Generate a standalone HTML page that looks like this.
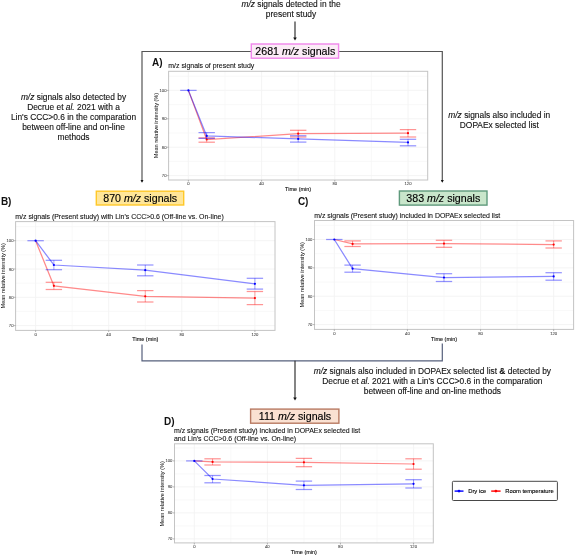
<!DOCTYPE html>
<html><head><meta charset="utf-8"><style>
html,body{margin:0;padding:0;background:#fff;width:575px;height:556px;overflow:hidden}
svg{display:block;font-family:"Liberation Sans", sans-serif;will-change:transform}
</style></head><body>
<svg width="575" height="556" viewBox="0 0 575 556" font-family='"Liberation Sans", sans-serif'>
<text x="291" y="6.8" font-size="8.4" text-anchor="middle" fill="#111" stroke="#111" stroke-width="0.12" font-weight="normal" ><tspan font-style="italic">m/z</tspan> signals detected in the</text>
<text x="291" y="16.7" font-size="8.4" text-anchor="middle" fill="#111" stroke="#111" stroke-width="0.12" font-weight="normal" >present study</text>
<line x1="295" y1="21.5" x2="295" y2="38" stroke="#2a2a2a" stroke-width="1.15"/>
<path d="M293.2,37.5 L296.8,37.5 L295,40.5 Z" fill="#111"/>
<polyline points="142,181.5 142,51.5 251,51.5" fill="none" stroke="#555" stroke-width="1.2"/>
<polyline points="338.6,51.5 442.3,51.5 442.3,181.5" fill="none" stroke="#555" stroke-width="1.2"/>
<path d="M140.5,180 L143.5,180 L142,182.8 Z" fill="#111"/>
<path d="M440.8,180 L443.8,180 L442.3,182.8 Z" fill="#111"/>
<rect x="251.3" y="44.0" width="87.30000000000001" height="14.200000000000003" fill="#fbecf6" stroke="#f086ec" stroke-width="1.4"/>
<text x="295.3" y="55.2" font-size="10.65" text-anchor="middle" fill="#000" stroke="#000" stroke-width="0.15" font-weight="normal" >2681 <tspan font-style="italic">m/z</tspan> signals</text>
<text x="73.5" y="99.7" font-size="8.4" text-anchor="middle" fill="#111" stroke="#111" stroke-width="0.12" font-weight="normal" ><tspan font-style="italic">m/z</tspan> signals also detected by</text>
<text x="73.5" y="109.75" font-size="8.4" text-anchor="middle" fill="#111" stroke="#111" stroke-width="0.12" font-weight="normal" >Decrue et <tspan font-style="italic">al.</tspan> 2021 with a</text>
<text x="73.5" y="119.80000000000001" font-size="8.4" text-anchor="middle" fill="#111" stroke="#111" stroke-width="0.12" font-weight="normal" >Lin's CCC&gt;0.6 in the comparation</text>
<text x="73.5" y="129.85" font-size="8.4" text-anchor="middle" fill="#111" stroke="#111" stroke-width="0.12" font-weight="normal" >between off-line and on-line</text>
<text x="73.5" y="139.9" font-size="8.4" text-anchor="middle" fill="#111" stroke="#111" stroke-width="0.12" font-weight="normal" >methods</text>
<text x="499.3" y="118.3" font-size="8.4" text-anchor="middle" fill="#111" stroke="#111" stroke-width="0.12" font-weight="normal" ><tspan font-style="italic">m/z</tspan> signals also included in</text>
<text x="499.3" y="127.6" font-size="8.4" text-anchor="middle" fill="#111" stroke="#111" stroke-width="0.12" font-weight="normal" >DOPAEx selected list</text>
<rect x="96.3" y="191.2" width="87.39999999999999" height="13.800000000000011" fill="#ffe699" stroke="#ffc828" stroke-width="1.4"/>
<text x="140.2" y="202.4" font-size="10.65" text-anchor="middle" fill="#000" stroke="#000" stroke-width="0.15" font-weight="normal" >870 <tspan font-style="italic">m/z</tspan> signals</text>
<rect x="399.4" y="191.0" width="87.60000000000002" height="14.099999999999994" fill="#c9e6cb" stroke="#5f9a7c" stroke-width="1.4"/>
<text x="443.3" y="202.4" font-size="10.65" text-anchor="middle" fill="#000" stroke="#000" stroke-width="0.15" font-weight="normal" >383 <tspan font-style="italic">m/z</tspan> signals</text>
<rect x="250.6" y="409.1" width="88.29999999999998" height="14.099999999999966" fill="#fae1d2" stroke="#b87a62" stroke-width="1.4"/>
<text x="295" y="420.4" font-size="10.65" text-anchor="middle" fill="#000" stroke="#000" stroke-width="0.15" font-weight="normal" >111 <tspan font-style="italic">m/z</tspan> signals</text>
<text x="0.9" y="204.9" font-size="10.0" text-anchor="start" fill="#111" stroke="#111" stroke-width="0" font-weight="bold" >B)</text>
<text x="297.9" y="205.4" font-size="10.0" text-anchor="start" fill="#111" stroke="#111" stroke-width="0" font-weight="bold" >C)</text>
<text x="152.1" y="66.2" font-size="10.0" text-anchor="start" fill="#111" stroke="#111" stroke-width="0" font-weight="bold" >A)</text>
<text x="164" y="425.1" font-size="10.0" text-anchor="start" fill="#111" stroke="#111" stroke-width="0" font-weight="bold" >D)</text>
<polyline points="142,344.5 142,360.8 442.3,360.8 442.3,343.5" fill="none" stroke="#56607c" stroke-width="1.2"/>
<line x1="295" y1="360.8" x2="295" y2="398" stroke="#2a2a2a" stroke-width="1.15"/>
<path d="M293.2,397.5 L296.8,397.5 L295,400.5 Z" fill="#111"/>
<text x="432.4" y="373.8" font-size="8.4" text-anchor="middle" fill="#111" stroke="#111" stroke-width="0.12" font-weight="normal" ><tspan font-style="italic">m/z</tspan> signals also included in DOPAEx selected list <tspan font-weight="bold">&amp;</tspan> detected by</text>
<text x="432.4" y="383.8" font-size="8.4" text-anchor="middle" fill="#111" stroke="#111" stroke-width="0.12" font-weight="normal" >Decrue et <tspan font-style="italic">al.</tspan> 2021 with a Lin's CCC&gt;0.6 in the comparation</text>
<text x="432.4" y="393.8" font-size="8.4" text-anchor="middle" fill="#111" stroke="#111" stroke-width="0.12" font-weight="normal" >between off-line and on-line methods</text>
<rect x="168.6" y="71.3" width="259.1" height="108.7" fill="#fff"/>
<line x1="168.6" y1="161.40" x2="427.7" y2="161.40" stroke="#f6f6f6" stroke-width="0.7"/>
<line x1="168.6" y1="133.00" x2="427.7" y2="133.00" stroke="#f6f6f6" stroke-width="0.7"/>
<line x1="168.6" y1="104.60" x2="427.7" y2="104.60" stroke="#f6f6f6" stroke-width="0.7"/>
<line x1="168.6" y1="76.20" x2="427.7" y2="76.20" stroke="#f6f6f6" stroke-width="0.7"/>
<line x1="225.00" y1="71.3" x2="225.00" y2="180.0" stroke="#f6f6f6" stroke-width="0.7"/>
<line x1="298.20" y1="71.3" x2="298.20" y2="180.0" stroke="#f6f6f6" stroke-width="0.7"/>
<line x1="371.40" y1="71.3" x2="371.40" y2="180.0" stroke="#f6f6f6" stroke-width="0.7"/>
<line x1="168.6" y1="175.60" x2="427.7" y2="175.60" stroke="#f3f3f3" stroke-width="0.9"/>
<line x1="168.6" y1="147.20" x2="427.7" y2="147.20" stroke="#f3f3f3" stroke-width="0.9"/>
<line x1="168.6" y1="118.80" x2="427.7" y2="118.80" stroke="#f3f3f3" stroke-width="0.9"/>
<line x1="168.6" y1="90.40" x2="427.7" y2="90.40" stroke="#f3f3f3" stroke-width="0.9"/>
<line x1="188.40" y1="71.3" x2="188.40" y2="180.0" stroke="#f3f3f3" stroke-width="0.9"/>
<line x1="261.60" y1="71.3" x2="261.60" y2="180.0" stroke="#f3f3f3" stroke-width="0.9"/>
<line x1="334.80" y1="71.3" x2="334.80" y2="180.0" stroke="#f3f3f3" stroke-width="0.9"/>
<line x1="408.00" y1="71.3" x2="408.00" y2="180.0" stroke="#f3f3f3" stroke-width="0.9"/>
<rect x="168.6" y="71.3" width="259.1" height="108.7" fill="none" stroke="#c4c4c4" stroke-width="1"/>
<line x1="167.0" y1="175.60" x2="168.6" y2="175.60" stroke="#888" stroke-width="0.6"/>
<text x="166.5" y="177.15" font-size="4.2" text-anchor="end" fill="#444" stroke="#444" stroke-width="0.06" font-weight="normal" >70</text>
<line x1="167.0" y1="147.20" x2="168.6" y2="147.20" stroke="#888" stroke-width="0.6"/>
<text x="166.5" y="148.75" font-size="4.2" text-anchor="end" fill="#444" stroke="#444" stroke-width="0.06" font-weight="normal" >80</text>
<line x1="167.0" y1="118.80" x2="168.6" y2="118.80" stroke="#888" stroke-width="0.6"/>
<text x="166.5" y="120.35" font-size="4.2" text-anchor="end" fill="#444" stroke="#444" stroke-width="0.06" font-weight="normal" >90</text>
<line x1="167.0" y1="90.40" x2="168.6" y2="90.40" stroke="#888" stroke-width="0.6"/>
<text x="166.5" y="91.95" font-size="4.2" text-anchor="end" fill="#444" stroke="#444" stroke-width="0.06" font-weight="normal" >100</text>
<line x1="188.40" y1="180.0" x2="188.40" y2="181.6" stroke="#888" stroke-width="0.6"/>
<text x="188.4" y="185.2" font-size="4.2" text-anchor="middle" fill="#444" stroke="#444" stroke-width="0.06" font-weight="normal" >0</text>
<line x1="261.60" y1="180.0" x2="261.60" y2="181.6" stroke="#888" stroke-width="0.6"/>
<text x="261.6" y="185.2" font-size="4.2" text-anchor="middle" fill="#444" stroke="#444" stroke-width="0.06" font-weight="normal" >40</text>
<line x1="334.80" y1="180.0" x2="334.80" y2="181.6" stroke="#888" stroke-width="0.6"/>
<text x="334.79999999999995" y="185.2" font-size="4.2" text-anchor="middle" fill="#444" stroke="#444" stroke-width="0.06" font-weight="normal" >80</text>
<line x1="408.00" y1="180.0" x2="408.00" y2="181.6" stroke="#888" stroke-width="0.6"/>
<text x="408.0" y="185.2" font-size="4.2" text-anchor="middle" fill="#444" stroke="#444" stroke-width="0.06" font-weight="normal" >120</text>
<text x="298.15" y="191" font-size="5.5" text-anchor="middle" fill="#111" stroke="#111" stroke-width="0.12" font-weight="normal" >Time (min)</text>
<text x="0" y="0" font-size="5.55" text-anchor="middle" fill="#111" stroke="#111" stroke-width="0.02" font-weight="normal" transform="translate(157.70,125.55) rotate(-90)">Mean relative intensity (%)</text>
<polyline points="188.40,90.40 206.70,139.50 298.20,133.70 408.00,133.20" fill="none" stroke="#ff0000" stroke-opacity="0.46" stroke-width="1.25"/>
<line x1="198.50" y1="137.90" x2="214.90" y2="137.90" stroke="#ff0000" stroke-opacity="0.42" stroke-width="1.25"/>
<line x1="198.50" y1="142.20" x2="214.90" y2="142.20" stroke="#ff0000" stroke-opacity="0.42" stroke-width="1.25"/>
<line x1="206.70" y1="137.90" x2="206.70" y2="142.20" stroke="#ff0000" stroke-opacity="0.46" stroke-width="0.8"/>
<circle cx="206.70" cy="139.50" r="1.1" fill="#ff0000"/>
<line x1="290.00" y1="130.30" x2="306.40" y2="130.30" stroke="#ff0000" stroke-opacity="0.42" stroke-width="1.25"/>
<line x1="290.00" y1="137.00" x2="306.40" y2="137.00" stroke="#ff0000" stroke-opacity="0.42" stroke-width="1.25"/>
<line x1="298.20" y1="130.30" x2="298.20" y2="137.00" stroke="#ff0000" stroke-opacity="0.46" stroke-width="0.8"/>
<circle cx="298.20" cy="133.70" r="1.1" fill="#ff0000"/>
<line x1="399.80" y1="129.60" x2="416.20" y2="129.60" stroke="#ff0000" stroke-opacity="0.42" stroke-width="1.25"/>
<line x1="399.80" y1="137.00" x2="416.20" y2="137.00" stroke="#ff0000" stroke-opacity="0.42" stroke-width="1.25"/>
<line x1="408.00" y1="129.60" x2="408.00" y2="137.00" stroke="#ff0000" stroke-opacity="0.46" stroke-width="0.8"/>
<circle cx="408.00" cy="133.20" r="1.1" fill="#ff0000"/>
<polyline points="188.40,90.40 206.70,135.90 298.20,138.90 408.00,142.40" fill="none" stroke="#0000ff" stroke-opacity="0.46" stroke-width="1.25"/>
<line x1="180.20" y1="90.40" x2="196.60" y2="90.40" stroke="#0000ff" stroke-opacity="0.42" stroke-width="1.25"/>
<line x1="188.40" y1="90.40" x2="188.40" y2="90.40" stroke="#0000ff" stroke-opacity="0.46" stroke-width="0.8"/>
<circle cx="188.40" cy="90.40" r="1.1" fill="#0000ff"/>
<line x1="198.50" y1="132.60" x2="214.90" y2="132.60" stroke="#0000ff" stroke-opacity="0.42" stroke-width="1.25"/>
<line x1="198.50" y1="138.40" x2="214.90" y2="138.40" stroke="#0000ff" stroke-opacity="0.42" stroke-width="1.25"/>
<line x1="206.70" y1="132.60" x2="206.70" y2="138.40" stroke="#0000ff" stroke-opacity="0.46" stroke-width="0.8"/>
<circle cx="206.70" cy="135.90" r="1.1" fill="#0000ff"/>
<line x1="290.00" y1="135.70" x2="306.40" y2="135.70" stroke="#0000ff" stroke-opacity="0.42" stroke-width="1.25"/>
<line x1="290.00" y1="142.10" x2="306.40" y2="142.10" stroke="#0000ff" stroke-opacity="0.42" stroke-width="1.25"/>
<line x1="298.20" y1="135.70" x2="298.20" y2="142.10" stroke="#0000ff" stroke-opacity="0.46" stroke-width="0.8"/>
<circle cx="298.20" cy="138.90" r="1.1" fill="#0000ff"/>
<line x1="399.80" y1="139.30" x2="416.20" y2="139.30" stroke="#0000ff" stroke-opacity="0.42" stroke-width="1.25"/>
<line x1="399.80" y1="145.80" x2="416.20" y2="145.80" stroke="#0000ff" stroke-opacity="0.42" stroke-width="1.25"/>
<line x1="408.00" y1="139.30" x2="408.00" y2="145.80" stroke="#0000ff" stroke-opacity="0.46" stroke-width="0.8"/>
<circle cx="408.00" cy="142.40" r="1.1" fill="#0000ff"/>
<text x="168.29999999999998" y="68.3" font-size="6.95" text-anchor="start" fill="#111" stroke="#111" stroke-width="0.1" font-weight="normal" >m/z signals of present study</text>
<rect x="15.6" y="221.6" width="259.4" height="108.79999999999998" fill="#fff"/>
<line x1="15.6" y1="311.45" x2="275.0" y2="311.45" stroke="#f6f6f6" stroke-width="0.7"/>
<line x1="15.6" y1="283.15" x2="275.0" y2="283.15" stroke="#f6f6f6" stroke-width="0.7"/>
<line x1="15.6" y1="254.85" x2="275.0" y2="254.85" stroke="#f6f6f6" stroke-width="0.7"/>
<line x1="15.6" y1="226.55" x2="275.0" y2="226.55" stroke="#f6f6f6" stroke-width="0.7"/>
<line x1="72.15" y1="221.6" x2="72.15" y2="330.4" stroke="#f6f6f6" stroke-width="0.7"/>
<line x1="145.25" y1="221.6" x2="145.25" y2="330.4" stroke="#f6f6f6" stroke-width="0.7"/>
<line x1="218.35" y1="221.6" x2="218.35" y2="330.4" stroke="#f6f6f6" stroke-width="0.7"/>
<line x1="15.6" y1="325.60" x2="275.0" y2="325.60" stroke="#f3f3f3" stroke-width="0.9"/>
<line x1="15.6" y1="297.30" x2="275.0" y2="297.30" stroke="#f3f3f3" stroke-width="0.9"/>
<line x1="15.6" y1="269.00" x2="275.0" y2="269.00" stroke="#f3f3f3" stroke-width="0.9"/>
<line x1="15.6" y1="240.70" x2="275.0" y2="240.70" stroke="#f3f3f3" stroke-width="0.9"/>
<line x1="35.60" y1="221.6" x2="35.60" y2="330.4" stroke="#f3f3f3" stroke-width="0.9"/>
<line x1="108.70" y1="221.6" x2="108.70" y2="330.4" stroke="#f3f3f3" stroke-width="0.9"/>
<line x1="181.80" y1="221.6" x2="181.80" y2="330.4" stroke="#f3f3f3" stroke-width="0.9"/>
<line x1="254.90" y1="221.6" x2="254.90" y2="330.4" stroke="#f3f3f3" stroke-width="0.9"/>
<rect x="15.6" y="221.6" width="259.4" height="108.79999999999998" fill="none" stroke="#c4c4c4" stroke-width="1"/>
<line x1="14.0" y1="325.60" x2="15.6" y2="325.60" stroke="#888" stroke-width="0.6"/>
<text x="13.5" y="327.15000000000003" font-size="4.2" text-anchor="end" fill="#444" stroke="#444" stroke-width="0.06" font-weight="normal" >70</text>
<line x1="14.0" y1="297.30" x2="15.6" y2="297.30" stroke="#888" stroke-width="0.6"/>
<text x="13.5" y="298.85" font-size="4.2" text-anchor="end" fill="#444" stroke="#444" stroke-width="0.06" font-weight="normal" >80</text>
<line x1="14.0" y1="269.00" x2="15.6" y2="269.00" stroke="#888" stroke-width="0.6"/>
<text x="13.5" y="270.55" font-size="4.2" text-anchor="end" fill="#444" stroke="#444" stroke-width="0.06" font-weight="normal" >90</text>
<line x1="14.0" y1="240.70" x2="15.6" y2="240.70" stroke="#888" stroke-width="0.6"/>
<text x="13.5" y="242.25" font-size="4.2" text-anchor="end" fill="#444" stroke="#444" stroke-width="0.06" font-weight="normal" >100</text>
<line x1="35.60" y1="330.4" x2="35.60" y2="332.0" stroke="#888" stroke-width="0.6"/>
<text x="35.6" y="335.59999999999997" font-size="4.2" text-anchor="middle" fill="#444" stroke="#444" stroke-width="0.06" font-weight="normal" >0</text>
<line x1="108.70" y1="330.4" x2="108.70" y2="332.0" stroke="#888" stroke-width="0.6"/>
<text x="108.69999999999999" y="335.59999999999997" font-size="4.2" text-anchor="middle" fill="#444" stroke="#444" stroke-width="0.06" font-weight="normal" >40</text>
<line x1="181.80" y1="330.4" x2="181.80" y2="332.0" stroke="#888" stroke-width="0.6"/>
<text x="181.79999999999998" y="335.59999999999997" font-size="4.2" text-anchor="middle" fill="#444" stroke="#444" stroke-width="0.06" font-weight="normal" >80</text>
<line x1="254.90" y1="330.4" x2="254.90" y2="332.0" stroke="#888" stroke-width="0.6"/>
<text x="254.89999999999998" y="335.59999999999997" font-size="4.2" text-anchor="middle" fill="#444" stroke="#444" stroke-width="0.06" font-weight="normal" >120</text>
<text x="145.3" y="341.2" font-size="5.5" text-anchor="middle" fill="#111" stroke="#111" stroke-width="0.12" font-weight="normal" >Time (min)</text>
<text x="0" y="0" font-size="5.55" text-anchor="middle" fill="#111" stroke="#111" stroke-width="0.02" font-weight="normal" transform="translate(5.00,275.80) rotate(-90)">Mean relative intensity (%)</text>
<polyline points="35.60,240.70 53.88,285.80 145.25,296.30 254.90,298.10" fill="none" stroke="#ff0000" stroke-opacity="0.46" stroke-width="1.25"/>
<line x1="45.67" y1="282.30" x2="62.08" y2="282.30" stroke="#ff0000" stroke-opacity="0.42" stroke-width="1.25"/>
<line x1="45.67" y1="289.50" x2="62.08" y2="289.50" stroke="#ff0000" stroke-opacity="0.42" stroke-width="1.25"/>
<line x1="53.88" y1="282.30" x2="53.88" y2="289.50" stroke="#ff0000" stroke-opacity="0.46" stroke-width="0.8"/>
<circle cx="53.88" cy="285.80" r="1.1" fill="#ff0000"/>
<line x1="137.05" y1="290.60" x2="153.45" y2="290.60" stroke="#ff0000" stroke-opacity="0.42" stroke-width="1.25"/>
<line x1="137.05" y1="302.00" x2="153.45" y2="302.00" stroke="#ff0000" stroke-opacity="0.42" stroke-width="1.25"/>
<line x1="145.25" y1="290.60" x2="145.25" y2="302.00" stroke="#ff0000" stroke-opacity="0.46" stroke-width="0.8"/>
<circle cx="145.25" cy="296.30" r="1.1" fill="#ff0000"/>
<line x1="246.70" y1="291.50" x2="263.10" y2="291.50" stroke="#ff0000" stroke-opacity="0.42" stroke-width="1.25"/>
<line x1="246.70" y1="304.60" x2="263.10" y2="304.60" stroke="#ff0000" stroke-opacity="0.42" stroke-width="1.25"/>
<line x1="254.90" y1="291.50" x2="254.90" y2="304.60" stroke="#ff0000" stroke-opacity="0.46" stroke-width="0.8"/>
<circle cx="254.90" cy="298.10" r="1.1" fill="#ff0000"/>
<polyline points="35.60,240.70 53.88,265.00 145.25,270.20 254.90,283.80" fill="none" stroke="#0000ff" stroke-opacity="0.46" stroke-width="1.25"/>
<line x1="27.40" y1="240.70" x2="43.80" y2="240.70" stroke="#0000ff" stroke-opacity="0.42" stroke-width="1.25"/>
<line x1="35.60" y1="240.70" x2="35.60" y2="240.70" stroke="#0000ff" stroke-opacity="0.46" stroke-width="0.8"/>
<circle cx="35.60" cy="240.70" r="1.1" fill="#0000ff"/>
<line x1="45.67" y1="260.30" x2="62.08" y2="260.30" stroke="#0000ff" stroke-opacity="0.42" stroke-width="1.25"/>
<line x1="45.67" y1="269.70" x2="62.08" y2="269.70" stroke="#0000ff" stroke-opacity="0.42" stroke-width="1.25"/>
<line x1="53.88" y1="260.30" x2="53.88" y2="269.70" stroke="#0000ff" stroke-opacity="0.46" stroke-width="0.8"/>
<circle cx="53.88" cy="265.00" r="1.1" fill="#0000ff"/>
<line x1="137.05" y1="265.00" x2="153.45" y2="265.00" stroke="#0000ff" stroke-opacity="0.42" stroke-width="1.25"/>
<line x1="137.05" y1="275.80" x2="153.45" y2="275.80" stroke="#0000ff" stroke-opacity="0.42" stroke-width="1.25"/>
<line x1="145.25" y1="265.00" x2="145.25" y2="275.80" stroke="#0000ff" stroke-opacity="0.46" stroke-width="0.8"/>
<circle cx="145.25" cy="270.20" r="1.1" fill="#0000ff"/>
<line x1="246.70" y1="278.30" x2="263.10" y2="278.30" stroke="#0000ff" stroke-opacity="0.42" stroke-width="1.25"/>
<line x1="246.70" y1="289.10" x2="263.10" y2="289.10" stroke="#0000ff" stroke-opacity="0.42" stroke-width="1.25"/>
<line x1="254.90" y1="278.30" x2="254.90" y2="289.10" stroke="#0000ff" stroke-opacity="0.46" stroke-width="0.8"/>
<circle cx="254.90" cy="283.80" r="1.1" fill="#0000ff"/>
<text x="15.299999999999999" y="218.6" font-size="6.95" text-anchor="start" fill="#111" stroke="#111" stroke-width="0.1" font-weight="normal" >m/z signals (Present study) with Lin's CCC&gt;0.6 (Off-line vs. On-line)</text>
<rect x="314.5" y="220.5" width="259.1" height="108.89999999999998" fill="#fff"/>
<line x1="314.5" y1="310.42" x2="573.6" y2="310.42" stroke="#f6f6f6" stroke-width="0.7"/>
<line x1="314.5" y1="282.05" x2="573.6" y2="282.05" stroke="#f6f6f6" stroke-width="0.7"/>
<line x1="314.5" y1="253.68" x2="573.6" y2="253.68" stroke="#f6f6f6" stroke-width="0.7"/>
<line x1="314.5" y1="225.32" x2="573.6" y2="225.32" stroke="#f6f6f6" stroke-width="0.7"/>
<line x1="370.86" y1="220.5" x2="370.86" y2="329.4" stroke="#f6f6f6" stroke-width="0.7"/>
<line x1="443.98" y1="220.5" x2="443.98" y2="329.4" stroke="#f6f6f6" stroke-width="0.7"/>
<line x1="517.10" y1="220.5" x2="517.10" y2="329.4" stroke="#f6f6f6" stroke-width="0.7"/>
<line x1="314.5" y1="324.60" x2="573.6" y2="324.60" stroke="#f3f3f3" stroke-width="0.9"/>
<line x1="314.5" y1="296.23" x2="573.6" y2="296.23" stroke="#f3f3f3" stroke-width="0.9"/>
<line x1="314.5" y1="267.87" x2="573.6" y2="267.87" stroke="#f3f3f3" stroke-width="0.9"/>
<line x1="314.5" y1="239.50" x2="573.6" y2="239.50" stroke="#f3f3f3" stroke-width="0.9"/>
<line x1="334.30" y1="220.5" x2="334.30" y2="329.4" stroke="#f3f3f3" stroke-width="0.9"/>
<line x1="407.42" y1="220.5" x2="407.42" y2="329.4" stroke="#f3f3f3" stroke-width="0.9"/>
<line x1="480.54" y1="220.5" x2="480.54" y2="329.4" stroke="#f3f3f3" stroke-width="0.9"/>
<line x1="553.66" y1="220.5" x2="553.66" y2="329.4" stroke="#f3f3f3" stroke-width="0.9"/>
<rect x="314.5" y="220.5" width="259.1" height="108.89999999999998" fill="none" stroke="#c4c4c4" stroke-width="1"/>
<line x1="312.9" y1="324.60" x2="314.5" y2="324.60" stroke="#888" stroke-width="0.6"/>
<text x="312.4" y="326.15000000000003" font-size="4.2" text-anchor="end" fill="#444" stroke="#444" stroke-width="0.06" font-weight="normal" >70</text>
<line x1="312.9" y1="296.23" x2="314.5" y2="296.23" stroke="#888" stroke-width="0.6"/>
<text x="312.4" y="297.78333333333336" font-size="4.2" text-anchor="end" fill="#444" stroke="#444" stroke-width="0.06" font-weight="normal" >80</text>
<line x1="312.9" y1="267.87" x2="314.5" y2="267.87" stroke="#888" stroke-width="0.6"/>
<text x="312.4" y="269.4166666666667" font-size="4.2" text-anchor="end" fill="#444" stroke="#444" stroke-width="0.06" font-weight="normal" >90</text>
<line x1="312.9" y1="239.50" x2="314.5" y2="239.50" stroke="#888" stroke-width="0.6"/>
<text x="312.4" y="241.05" font-size="4.2" text-anchor="end" fill="#444" stroke="#444" stroke-width="0.06" font-weight="normal" >100</text>
<line x1="334.30" y1="329.4" x2="334.30" y2="331.0" stroke="#888" stroke-width="0.6"/>
<text x="334.3" y="334.59999999999997" font-size="4.2" text-anchor="middle" fill="#444" stroke="#444" stroke-width="0.06" font-weight="normal" >0</text>
<line x1="407.42" y1="329.4" x2="407.42" y2="331.0" stroke="#888" stroke-width="0.6"/>
<text x="407.42" y="334.59999999999997" font-size="4.2" text-anchor="middle" fill="#444" stroke="#444" stroke-width="0.06" font-weight="normal" >40</text>
<line x1="480.54" y1="329.4" x2="480.54" y2="331.0" stroke="#888" stroke-width="0.6"/>
<text x="480.54" y="334.59999999999997" font-size="4.2" text-anchor="middle" fill="#444" stroke="#444" stroke-width="0.06" font-weight="normal" >80</text>
<line x1="553.66" y1="329.4" x2="553.66" y2="331.0" stroke="#888" stroke-width="0.6"/>
<text x="553.6600000000001" y="334.59999999999997" font-size="4.2" text-anchor="middle" fill="#444" stroke="#444" stroke-width="0.06" font-weight="normal" >120</text>
<text x="444.05" y="340.5" font-size="5.5" text-anchor="middle" fill="#111" stroke="#111" stroke-width="0.12" font-weight="normal" >Time (min)</text>
<text x="0" y="0" font-size="5.55" text-anchor="middle" fill="#111" stroke="#111" stroke-width="0.02" font-weight="normal" transform="translate(304.00,274.75) rotate(-90)">Mean relative intensity (%)</text>
<polyline points="334.30,239.50 352.58,243.90 443.98,243.60 553.66,244.60" fill="none" stroke="#ff0000" stroke-opacity="0.46" stroke-width="1.25"/>
<line x1="344.38" y1="240.90" x2="360.78" y2="240.90" stroke="#ff0000" stroke-opacity="0.42" stroke-width="1.25"/>
<line x1="344.38" y1="246.50" x2="360.78" y2="246.50" stroke="#ff0000" stroke-opacity="0.42" stroke-width="1.25"/>
<line x1="352.58" y1="240.90" x2="352.58" y2="246.50" stroke="#ff0000" stroke-opacity="0.46" stroke-width="0.8"/>
<circle cx="352.58" cy="243.90" r="1.1" fill="#ff0000"/>
<line x1="435.78" y1="240.30" x2="452.18" y2="240.30" stroke="#ff0000" stroke-opacity="0.42" stroke-width="1.25"/>
<line x1="435.78" y1="247.30" x2="452.18" y2="247.30" stroke="#ff0000" stroke-opacity="0.42" stroke-width="1.25"/>
<line x1="443.98" y1="240.30" x2="443.98" y2="247.30" stroke="#ff0000" stroke-opacity="0.46" stroke-width="0.8"/>
<circle cx="443.98" cy="243.60" r="1.1" fill="#ff0000"/>
<line x1="545.46" y1="240.90" x2="561.86" y2="240.90" stroke="#ff0000" stroke-opacity="0.42" stroke-width="1.25"/>
<line x1="545.46" y1="248.00" x2="561.86" y2="248.00" stroke="#ff0000" stroke-opacity="0.42" stroke-width="1.25"/>
<line x1="553.66" y1="240.90" x2="553.66" y2="248.00" stroke="#ff0000" stroke-opacity="0.46" stroke-width="0.8"/>
<circle cx="553.66" cy="244.60" r="1.1" fill="#ff0000"/>
<polyline points="334.30,239.50 352.58,268.70 443.98,277.50 553.66,276.40" fill="none" stroke="#0000ff" stroke-opacity="0.46" stroke-width="1.25"/>
<line x1="326.10" y1="239.50" x2="342.50" y2="239.50" stroke="#0000ff" stroke-opacity="0.42" stroke-width="1.25"/>
<line x1="334.30" y1="239.50" x2="334.30" y2="239.50" stroke="#0000ff" stroke-opacity="0.46" stroke-width="0.8"/>
<circle cx="334.30" cy="239.50" r="1.1" fill="#0000ff"/>
<line x1="344.38" y1="265.10" x2="360.78" y2="265.10" stroke="#0000ff" stroke-opacity="0.42" stroke-width="1.25"/>
<line x1="344.38" y1="272.20" x2="360.78" y2="272.20" stroke="#0000ff" stroke-opacity="0.42" stroke-width="1.25"/>
<line x1="352.58" y1="265.10" x2="352.58" y2="272.20" stroke="#0000ff" stroke-opacity="0.46" stroke-width="0.8"/>
<circle cx="352.58" cy="268.70" r="1.1" fill="#0000ff"/>
<line x1="435.78" y1="273.70" x2="452.18" y2="273.70" stroke="#0000ff" stroke-opacity="0.42" stroke-width="1.25"/>
<line x1="435.78" y1="281.50" x2="452.18" y2="281.50" stroke="#0000ff" stroke-opacity="0.42" stroke-width="1.25"/>
<line x1="443.98" y1="273.70" x2="443.98" y2="281.50" stroke="#0000ff" stroke-opacity="0.46" stroke-width="0.8"/>
<circle cx="443.98" cy="277.50" r="1.1" fill="#0000ff"/>
<line x1="545.46" y1="272.70" x2="561.86" y2="272.70" stroke="#0000ff" stroke-opacity="0.42" stroke-width="1.25"/>
<line x1="545.46" y1="280.20" x2="561.86" y2="280.20" stroke="#0000ff" stroke-opacity="0.42" stroke-width="1.25"/>
<line x1="553.66" y1="272.70" x2="553.66" y2="280.20" stroke="#0000ff" stroke-opacity="0.46" stroke-width="0.8"/>
<circle cx="553.66" cy="276.40" r="1.1" fill="#0000ff"/>
<text x="314.2" y="217.5" font-size="6.95" text-anchor="start" fill="#111" stroke="#111" stroke-width="0.1" font-weight="normal" >m/z signals (Present study) included in DOPAEx selected list</text>
<rect x="174.5" y="443.8" width="258.8" height="99.09999999999997" fill="#fff"/>
<line x1="174.5" y1="525.90" x2="433.3" y2="525.90" stroke="#f6f6f6" stroke-width="0.7"/>
<line x1="174.5" y1="499.90" x2="433.3" y2="499.90" stroke="#f6f6f6" stroke-width="0.7"/>
<line x1="174.5" y1="473.90" x2="433.3" y2="473.90" stroke="#f6f6f6" stroke-width="0.7"/>
<line x1="174.5" y1="447.90" x2="433.3" y2="447.90" stroke="#f6f6f6" stroke-width="0.7"/>
<line x1="230.84" y1="443.8" x2="230.84" y2="542.9" stroke="#f6f6f6" stroke-width="0.7"/>
<line x1="303.92" y1="443.8" x2="303.92" y2="542.9" stroke="#f6f6f6" stroke-width="0.7"/>
<line x1="377.00" y1="443.8" x2="377.00" y2="542.9" stroke="#f6f6f6" stroke-width="0.7"/>
<line x1="174.5" y1="538.90" x2="433.3" y2="538.90" stroke="#f3f3f3" stroke-width="0.9"/>
<line x1="174.5" y1="512.90" x2="433.3" y2="512.90" stroke="#f3f3f3" stroke-width="0.9"/>
<line x1="174.5" y1="486.90" x2="433.3" y2="486.90" stroke="#f3f3f3" stroke-width="0.9"/>
<line x1="174.5" y1="460.90" x2="433.3" y2="460.90" stroke="#f3f3f3" stroke-width="0.9"/>
<line x1="194.30" y1="443.8" x2="194.30" y2="542.9" stroke="#f3f3f3" stroke-width="0.9"/>
<line x1="267.38" y1="443.8" x2="267.38" y2="542.9" stroke="#f3f3f3" stroke-width="0.9"/>
<line x1="340.46" y1="443.8" x2="340.46" y2="542.9" stroke="#f3f3f3" stroke-width="0.9"/>
<line x1="413.54" y1="443.8" x2="413.54" y2="542.9" stroke="#f3f3f3" stroke-width="0.9"/>
<rect x="174.5" y="443.8" width="258.8" height="99.09999999999997" fill="none" stroke="#c4c4c4" stroke-width="1"/>
<line x1="172.9" y1="538.90" x2="174.5" y2="538.90" stroke="#888" stroke-width="0.6"/>
<text x="172.4" y="540.4499999999999" font-size="4.2" text-anchor="end" fill="#444" stroke="#444" stroke-width="0.06" font-weight="normal" >70</text>
<line x1="172.9" y1="512.90" x2="174.5" y2="512.90" stroke="#888" stroke-width="0.6"/>
<text x="172.4" y="514.4499999999999" font-size="4.2" text-anchor="end" fill="#444" stroke="#444" stroke-width="0.06" font-weight="normal" >80</text>
<line x1="172.9" y1="486.90" x2="174.5" y2="486.90" stroke="#888" stroke-width="0.6"/>
<text x="172.4" y="488.45" font-size="4.2" text-anchor="end" fill="#444" stroke="#444" stroke-width="0.06" font-weight="normal" >90</text>
<line x1="172.9" y1="460.90" x2="174.5" y2="460.90" stroke="#888" stroke-width="0.6"/>
<text x="172.4" y="462.45" font-size="4.2" text-anchor="end" fill="#444" stroke="#444" stroke-width="0.06" font-weight="normal" >100</text>
<line x1="194.30" y1="542.9" x2="194.30" y2="544.5" stroke="#888" stroke-width="0.6"/>
<text x="194.3" y="548.1" font-size="4.2" text-anchor="middle" fill="#444" stroke="#444" stroke-width="0.06" font-weight="normal" >0</text>
<line x1="267.38" y1="542.9" x2="267.38" y2="544.5" stroke="#888" stroke-width="0.6"/>
<text x="267.38" y="548.1" font-size="4.2" text-anchor="middle" fill="#444" stroke="#444" stroke-width="0.06" font-weight="normal" >40</text>
<line x1="340.46" y1="542.9" x2="340.46" y2="544.5" stroke="#888" stroke-width="0.6"/>
<text x="340.46000000000004" y="548.1" font-size="4.2" text-anchor="middle" fill="#444" stroke="#444" stroke-width="0.06" font-weight="normal" >80</text>
<line x1="413.54" y1="542.9" x2="413.54" y2="544.5" stroke="#888" stroke-width="0.6"/>
<text x="413.54" y="548.1" font-size="4.2" text-anchor="middle" fill="#444" stroke="#444" stroke-width="0.06" font-weight="normal" >120</text>
<text x="303.9" y="554" font-size="5.5" text-anchor="middle" fill="#111" stroke="#111" stroke-width="0.12" font-weight="normal" >Time (min)</text>
<text x="0" y="0" font-size="5.55" text-anchor="middle" fill="#111" stroke="#111" stroke-width="0.02" font-weight="normal" transform="translate(163.60,493.90) rotate(-90)">Mean relative intensity (%)</text>
<polyline points="194.30,460.90 212.57,461.90 303.92,462.30 413.54,464.00" fill="none" stroke="#ff0000" stroke-opacity="0.46" stroke-width="1.25"/>
<line x1="204.37" y1="458.80" x2="220.77" y2="458.80" stroke="#ff0000" stroke-opacity="0.42" stroke-width="1.25"/>
<line x1="204.37" y1="465.00" x2="220.77" y2="465.00" stroke="#ff0000" stroke-opacity="0.42" stroke-width="1.25"/>
<line x1="212.57" y1="458.80" x2="212.57" y2="465.00" stroke="#ff0000" stroke-opacity="0.46" stroke-width="0.8"/>
<circle cx="212.57" cy="461.90" r="1.1" fill="#ff0000"/>
<line x1="295.72" y1="458.40" x2="312.12" y2="458.40" stroke="#ff0000" stroke-opacity="0.42" stroke-width="1.25"/>
<line x1="295.72" y1="466.70" x2="312.12" y2="466.70" stroke="#ff0000" stroke-opacity="0.42" stroke-width="1.25"/>
<line x1="303.92" y1="458.40" x2="303.92" y2="466.70" stroke="#ff0000" stroke-opacity="0.46" stroke-width="0.8"/>
<circle cx="303.92" cy="462.30" r="1.1" fill="#ff0000"/>
<line x1="405.34" y1="458.80" x2="421.74" y2="458.80" stroke="#ff0000" stroke-opacity="0.42" stroke-width="1.25"/>
<line x1="405.34" y1="469.20" x2="421.74" y2="469.20" stroke="#ff0000" stroke-opacity="0.42" stroke-width="1.25"/>
<line x1="413.54" y1="458.80" x2="413.54" y2="469.20" stroke="#ff0000" stroke-opacity="0.46" stroke-width="0.8"/>
<circle cx="413.54" cy="464.00" r="1.1" fill="#ff0000"/>
<polyline points="194.30,460.90 212.57,479.00 303.92,485.30 413.54,483.80" fill="none" stroke="#0000ff" stroke-opacity="0.46" stroke-width="1.25"/>
<line x1="186.10" y1="460.90" x2="202.50" y2="460.90" stroke="#0000ff" stroke-opacity="0.42" stroke-width="1.25"/>
<line x1="194.30" y1="460.90" x2="194.30" y2="460.90" stroke="#0000ff" stroke-opacity="0.46" stroke-width="0.8"/>
<circle cx="194.30" cy="460.90" r="1.1" fill="#0000ff"/>
<line x1="204.37" y1="475.50" x2="220.77" y2="475.50" stroke="#0000ff" stroke-opacity="0.42" stroke-width="1.25"/>
<line x1="204.37" y1="482.80" x2="220.77" y2="482.80" stroke="#0000ff" stroke-opacity="0.42" stroke-width="1.25"/>
<line x1="212.57" y1="475.50" x2="212.57" y2="482.80" stroke="#0000ff" stroke-opacity="0.46" stroke-width="0.8"/>
<circle cx="212.57" cy="479.00" r="1.1" fill="#0000ff"/>
<line x1="295.72" y1="481.10" x2="312.12" y2="481.10" stroke="#0000ff" stroke-opacity="0.42" stroke-width="1.25"/>
<line x1="295.72" y1="489.50" x2="312.12" y2="489.50" stroke="#0000ff" stroke-opacity="0.42" stroke-width="1.25"/>
<line x1="303.92" y1="481.10" x2="303.92" y2="489.50" stroke="#0000ff" stroke-opacity="0.46" stroke-width="0.8"/>
<circle cx="303.92" cy="485.30" r="1.1" fill="#0000ff"/>
<line x1="405.34" y1="479.70" x2="421.74" y2="479.70" stroke="#0000ff" stroke-opacity="0.42" stroke-width="1.25"/>
<line x1="405.34" y1="488.00" x2="421.74" y2="488.00" stroke="#0000ff" stroke-opacity="0.42" stroke-width="1.25"/>
<line x1="413.54" y1="479.70" x2="413.54" y2="488.00" stroke="#0000ff" stroke-opacity="0.46" stroke-width="0.8"/>
<circle cx="413.54" cy="483.80" r="1.1" fill="#0000ff"/>
<text x="174.0" y="433.2" font-size="6.95" text-anchor="start" fill="#111" stroke="#111" stroke-width="0.1" font-weight="normal" >m/z signals (Present study) included in DOPAEx selected list</text>
<text x="174.0" y="440.5" font-size="6.95" text-anchor="start" fill="#111" stroke="#111" stroke-width="0.1" font-weight="normal" >and Lin's CCC&gt;0.6 (Off-line vs. On-line)</text>
<rect x="452.4" y="481.3" width="105" height="19.2" rx="1" fill="#fff" stroke="#333" stroke-width="0.9"/>
<line x1="454.6" y1="491.1" x2="463.5" y2="491.1" stroke="#0000ff" stroke-width="1.4"/><circle cx="459" cy="491.1" r="1.4" fill="#0000ff"/>
<line x1="491.2" y1="491.1" x2="500.6" y2="491.1" stroke="#ff0000" stroke-width="1.4"/><circle cx="495.9" cy="491.1" r="1.4" fill="#ff0000"/>
<text x="468.2" y="493.1" font-size="5.85" text-anchor="start" fill="#000" stroke="#000" stroke-width="0.12" font-weight="normal" >Dry ice</text>
<text x="505.3" y="493.1" font-size="5.82" text-anchor="start" fill="#000" stroke="#000" stroke-width="0.12" font-weight="normal" >Room temperature</text>
</svg>
</body></html>
